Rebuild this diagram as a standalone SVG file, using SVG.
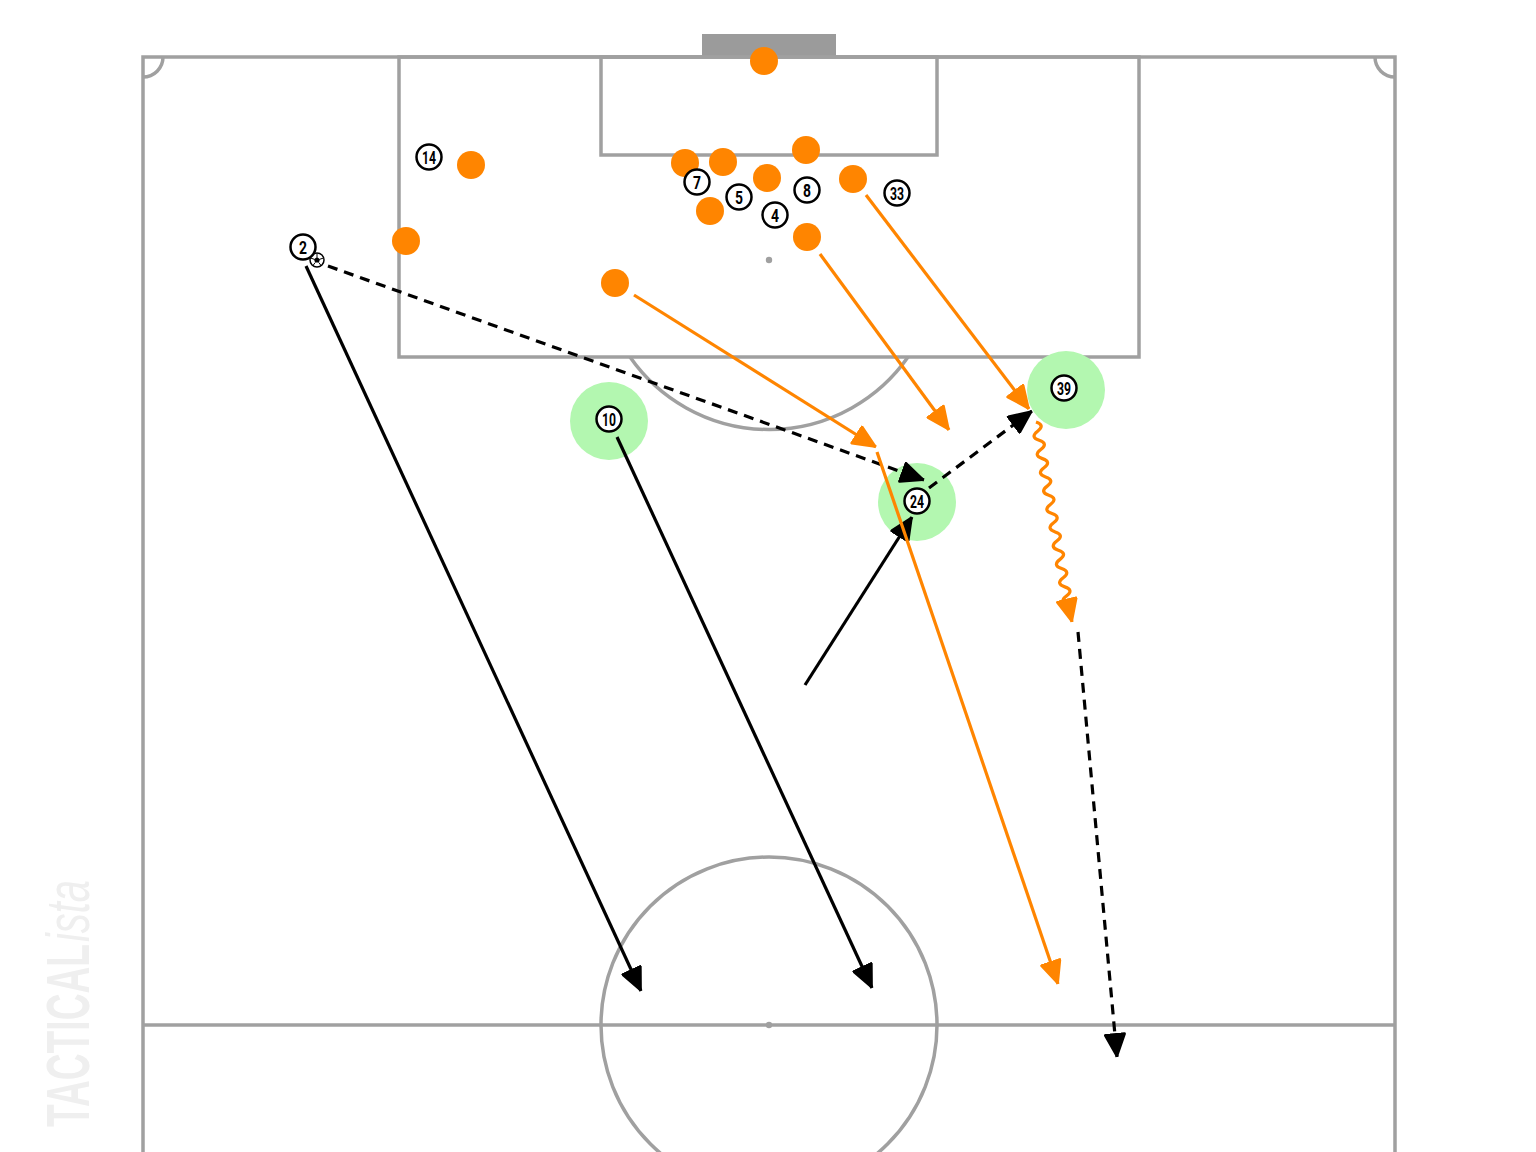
<svg xmlns="http://www.w3.org/2000/svg" width="1536" height="1152" viewBox="0 0 1536 1152">
<style>
.pl{fill:none;stroke:#a0a0a0;stroke-width:3.5}
.opp{fill:#ff8500}
.hl{fill:#b3f7b0}
.pc{fill:#fff;stroke:#000;stroke-width:2.5}
.pn{font-family:Roboto,"Liberation Sans",sans-serif;font-weight:700;font-size:19px;fill:#000;text-anchor:middle}
.blk{fill:none;stroke:#000;stroke-width:3.2}
.org{fill:none;stroke:#ff8500;stroke-width:3.2}
.dash{stroke-dasharray:10 7}
.wm{font-family:"Liberation Sans",Arial,sans-serif;fill:#efefef}
</style>
<defs>
<marker id="ahb" viewBox="0 0 24 22" refX="24" refY="11" markerWidth="24" markerHeight="22" markerUnits="userSpaceOnUse" orient="auto">
<path d="M1.5,1.5 L22.5,11 L1.5,20.5 Z" fill="#000" stroke="#000" stroke-width="3" stroke-linejoin="round"/>
</marker>
<marker id="aho" viewBox="0 0 24 22" refX="24" refY="11" markerWidth="24" markerHeight="22" markerUnits="userSpaceOnUse" orient="auto">
<path d="M1.5,1.5 L22.5,11 L1.5,20.5 Z" fill="#ff8500" stroke="#ff8500" stroke-width="3" stroke-linejoin="round"/>
</marker>
</defs>
<rect width="1536" height="1152" fill="#fff"/>
<g id="watermark">
<text class="wm" transform="translate(89,1127) rotate(-90)" x="0" y="0" font-size="62" font-weight="bold" textLength="183" lengthAdjust="spacingAndGlyphs">TACTICAL</text>
<text class="wm" transform="translate(89,1127) rotate(-90)" x="185" y="0" font-size="62" font-style="italic" textLength="62" lengthAdjust="spacingAndGlyphs">ista</text>
</g>
<g id="pitch">
<rect x="702" y="34" width="134" height="23" fill="#9b9b9b"/>
<path class="pl" d="M143,1152 V57 H1395 V1152"/>
<line class="pl" x1="143" y1="1025" x2="1395" y2="1025"/>
<rect class="pl" x="399" y="57" width="740" height="300"/>
<rect class="pl" x="601" y="57" width="336" height="98"/>
<path class="pl" d="M630,357 A169.5,169.5 0 0 0 908,357"/>
<circle class="pl" cx="769" cy="1025" r="168"/>
<path class="pl" d="M143,77 A20,20 0 0 0 163,57"/>
<path class="pl" d="M1375,57 A20,20 0 0 0 1395,77"/>
<circle cx="769" cy="260" r="3.2" fill="#a0a0a0"/>
<circle cx="769" cy="1025" r="3.2" fill="#a0a0a0"/>
</g>
<g id="highlights">
<circle id="hl-10" class="hl" cx="609" cy="421" r="39"/>
<circle id="hl-24" class="hl" cx="917" cy="502" r="39"/>
<circle id="hl-39" class="hl" cx="1066" cy="390" r="39"/>
</g>
<g id="opponents">
<circle id="opp-gk" class="opp" cx="764" cy="61" r="14"/>
<circle id="opp-1" class="opp" cx="471" cy="165" r="14"/>
<circle id="opp-2" class="opp" cx="406" cy="241" r="14"/>
<circle id="opp-3" class="opp" cx="685" cy="163" r="14"/>
<circle id="opp-4" class="opp" cx="723" cy="162" r="14"/>
<circle id="opp-5" class="opp" cx="806" cy="150" r="14"/>
<circle id="opp-6" class="opp" cx="767" cy="178" r="14"/>
<circle id="opp-7" class="opp" cx="853" cy="179" r="14"/>
<circle id="opp-8" class="opp" cx="710" cy="211" r="14"/>
<circle id="opp-9" class="opp" cx="807" cy="237" r="14"/>
<circle id="opp-10" class="opp" cx="615" cy="283" r="14"/>
</g>
<g id="connectors">
<line class="blk" x1="306" y1="266" x2="641" y2="991" marker-end="url(#ahb)"/>
<line class="blk" x1="617" y1="437" x2="872" y2="988" marker-end="url(#ahb)"/>
<line class="blk" x1="805" y1="685" x2="912" y2="517" marker-end="url(#ahb)"/>
<line class="blk dash" x1="328" y1="266" x2="924" y2="480" marker-end="url(#ahb)"/>
<line class="blk dash" x1="929" y1="488" x2="1032" y2="411" marker-end="url(#ahb)"/>
<line class="blk dash" x1="1078" y1="632" x2="1117" y2="1057" marker-end="url(#ahb)"/>
<line class="org" x1="634" y1="295" x2="876" y2="447" marker-end="url(#aho)"/>
<line class="org" x1="820" y1="254" x2="949" y2="430" marker-end="url(#aho)"/>
<line class="org" x1="866" y1="195" x2="1029" y2="409" marker-end="url(#aho)"/>
<line class="org" x1="877" y1="452" x2="1058" y2="984" marker-end="url(#aho)"/>
<path class="org" d="M1036,422 q9.5,3.2 1.6,9.16 t1.6,9.16 t1.6,9.16 t1.6,9.16 t1.6,9.16 t1.6,9.16 t1.6,9.16 t1.6,9.16 t1.6,9.16 t1.6,9.16 t1.6,9.16 t1.6,9.16 t1.6,9.16 t1.6,9.16 t1.6,9.16 t1.6,9.16 t1.6,9.16 t1.6,9.16 t1.6,9.16 t1.6,9.16 L1072,622" marker-end="url(#aho)"/>
</g>
<g id="ball">
<circle cx="317" cy="260" r="7" fill="#fff" stroke="#000" stroke-width="1.5"/>
<polygon points="317,257 320,259.2 318.9,262.6 315.1,262.6 314,259.2" fill="#000"/>
<path d="M317,257 V253.5 M320,259.2 L323.5,258 M318.9,262.6 L321,265.5 M315.1,262.6 L313,265.5 M314,259.2 L310.5,258" stroke="#000" stroke-width="1"/>
</g>
<g id="player-14"><circle class="pc" cx="429" cy="157" r="12.5"/><text class="pn" x="429" y="164" textLength="14" lengthAdjust="spacingAndGlyphs">14</text></g>
<g id="player-7"><circle class="pc" cx="697" cy="182" r="12.5"/><text class="pn" x="697" y="189" textLength="8" lengthAdjust="spacingAndGlyphs">7</text></g>
<g id="player-5"><circle class="pc" cx="739" cy="197" r="12.5"/><text class="pn" x="739" y="204" textLength="8" lengthAdjust="spacingAndGlyphs">5</text></g>
<g id="player-4"><circle class="pc" cx="775" cy="215" r="12.5"/><text class="pn" x="775" y="222" textLength="8" lengthAdjust="spacingAndGlyphs">4</text></g>
<g id="player-8"><circle class="pc" cx="807" cy="190" r="12.5"/><text class="pn" x="807" y="197" textLength="8" lengthAdjust="spacingAndGlyphs">8</text></g>
<g id="player-33"><circle class="pc" cx="897" cy="193" r="12.5"/><text class="pn" x="897" y="200" textLength="14" lengthAdjust="spacingAndGlyphs">33</text></g>
<g id="player-2"><circle class="pc" cx="303" cy="247" r="12.5"/><text class="pn" x="303" y="254" textLength="8" lengthAdjust="spacingAndGlyphs">2</text></g>
<g id="player-10"><circle class="pc" cx="609" cy="419" r="12.5"/><text class="pn" x="609" y="426" textLength="14" lengthAdjust="spacingAndGlyphs">10</text></g>
<g id="player-24"><circle class="pc" cx="917" cy="501" r="12.5"/><text class="pn" x="917" y="508" textLength="14" lengthAdjust="spacingAndGlyphs">24</text></g>
<g id="player-39"><circle class="pc" cx="1064" cy="388" r="12.5"/><text class="pn" x="1064" y="395" textLength="14" lengthAdjust="spacingAndGlyphs">39</text></g>
</svg>
